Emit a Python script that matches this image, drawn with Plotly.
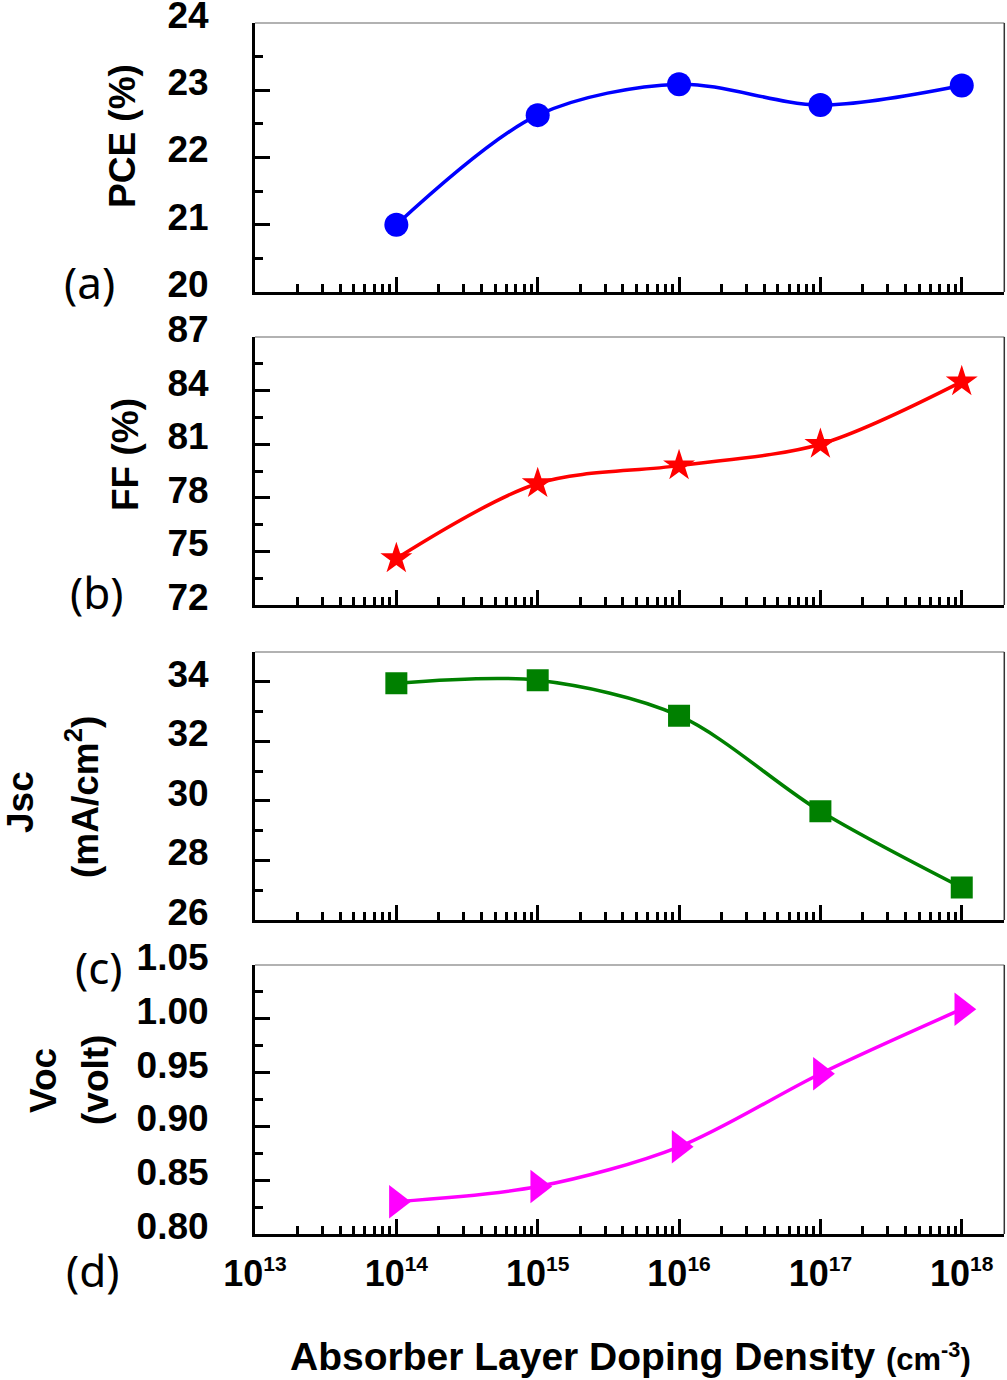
import plotly.graph_objects as go

# ---------------- data ----------------
doping = [1e14, 1e15, 1e16, 1e17, 1e18]
pce = [21.0, 22.63, 23.09, 22.78, 23.07]
ff = [74.6, 78.8, 79.8, 81.0, 84.5]
jsc = [33.95, 34.05, 32.86, 29.65, 27.09]
voc = [0.830, 0.844, 0.881, 0.949, 1.009]

x_tickvals = [1e13, 1e14, 1e15, 1e16, 1e17, 1e18]
x_exponents = ["13", "14", "15", "16", "17", "18"]
y_titles = ["PCE (%)", "FF (%)"]
panel_letters = ["(a)", "(b)", "(c)", "(d)"]
x_title = "Absorber Layer Doping Density"

# ---------------- layout constants ----------------
W, H = 1007, 1380
XL, XR = 255, 1004.3
panels_px = [(23, 292), (337, 605), (652, 920), (965, 1234)]
FONT = "Liberation Sans"
LFONT = "Noto Sans"


def px_x(v):
    return v / W


def px_y(v):
    return 1 - v / H


x_ticktext = ["10<sup><span style='font-size:21px'>%s</span></sup>" % e for e in x_exponents]

fig = go.Figure()

series = [
    (pce, "circle", 24, "#0000FF"),
    (ff, "star", 24, "#FF0000"),
    (jsc, "square", 22, "#008000"),
    (voc, "triangle-right", 29, "#FF00FF"),
]
yspec = [
    dict(range=[20, 24], tick0=20, dtick=1, minor_dtick=0.5, fmt=None),
    dict(range=[72, 87], tick0=72, dtick=3, minor_dtick=1.5, fmt=None),
    dict(range=[26, 35], tick0=26, dtick=2, minor_dtick=1, fmt=None),
    dict(range=[0.7999, 1.0501], tick0=0.8, dtick=0.05, minor_dtick=0.025, fmt=".2f"),
]

shapes = []
for i, ((vals, sym, size, col), ys, (top, bot)) in enumerate(zip(series, yspec, panels_px)):
    n = "" if i == 0 else str(i + 1)
    fig.add_trace(go.Scatter(
        x=doping, y=vals, mode="lines+markers",
        xaxis="x" + n, yaxis="y" + n,
        line=dict(color=col, width=3.5, shape="spline", smoothing=0.9),
        marker=dict(symbol=sym, size=size, color=col, line=dict(width=0)),
        showlegend=False, hoverinfo="x+y",
    ))
    last = (i == 3)
    fig.update_layout(**{
        "xaxis" + n: dict(
            type="log", range=[13, 18.301], domain=[px_x(XL), px_x(XR)],
            anchor="y" + n, showgrid=False, zeroline=False, automargin=False,
            showline=True, linewidth=3, linecolor="black",
            ticks="inside", ticklen=15, tickwidth=2.5, tickcolor="black",
            tickmode="array", tickvals=x_tickvals, ticktext=x_ticktext,
            showticklabels=last, ticklabeloverflow="allow",
            tickfont=dict(family=FONT, size=36, color="black", weight="bold"),
            ticklabelstandoff=6,
            minor=dict(ticks="inside", ticklen=8, tickwidth=2.5, tickcolor="black",
                       dtick="D1", showgrid=False),
        ),
        "yaxis" + n: dict(
            domain=[px_y(bot), px_y(top)], anchor="x" + n,
            range=ys["range"], showgrid=False, zeroline=False, automargin=False,
            showline=True, linewidth=3, linecolor="black",
            ticks="inside", ticklen=15, tickwidth=2.5, tickcolor="black",
            tickmode="linear", tick0=ys["tick0"], dtick=ys["dtick"],
            tickformat=ys["fmt"], ticklabeloverflow="allow",
            tickfont=dict(family=FONT, size=37, color="black", weight="bold"),
            ticklabelstandoff=36, ticklabelshift=-8,
            minor=dict(ticks="inside", ticklen=8, tickwidth=2.5, tickcolor="black",
                       tickmode="linear", tick0=ys["tick0"], dtick=ys["minor_dtick"],
                       showgrid=False),
        ),
    })
    xr = "x" + n + " domain"
    yr = "y" + n + " domain"
    shapes.append(dict(type="line", xref=xr, yref=yr, x0=0, x1=1, y0=1, y1=1,
                       line=dict(color="#666666", width=1.2)))
    shapes.append(dict(type="line", xref=xr, yref=yr, x0=1, x1=1, y0=0, y1=1,
                       line=dict(color="#333333", width=1.5)))

annotations = []


def ann(text, x, y, size, bold=True, angle=0, family=FONT):
    annotations.append(dict(
        text=text, x=px_x(x), y=px_y(y), xref="paper", yref="paper",
        xanchor="center", yanchor="middle", showarrow=False, textangle=angle,
        font=dict(family=family, size=size, color="black",
                  weight="bold" if bold else "normal"),
    ))


ann(y_titles[0], 123, 136, 37, angle=-90)
ann(y_titles[1], 125, 455, 37, angle=-90)
ann("Jsc", 20, 802, 37, angle=-90)
ann("(mA/cm<sup>2</sup>)", 82, 797, 37, angle=-90)
ann("Voc", 43, 1081, 37, angle=-90)
ann("(volt)", 95, 1080, 37, angle=-90)

letter_pos = [(89, 282), (96, 592), (99, 967), (92, 1270)]
for t, (lx, ly) in zip(panel_letters, letter_pos):
    ann(t, lx, ly, 44, bold=False, family=LFONT)

ann(x_title + " <span style='font-size:31px'>(cm<sup>-3</sup>)</span>", 630, 1356, 39)

fig.update_layout(
    template="none",
    width=W, height=H, margin=dict(l=0, r=0, t=0, b=0, autoexpand=False),
    paper_bgcolor="white", plot_bgcolor="white",
    shapes=shapes, annotations=annotations,
)

fig.write_html("out.html")
